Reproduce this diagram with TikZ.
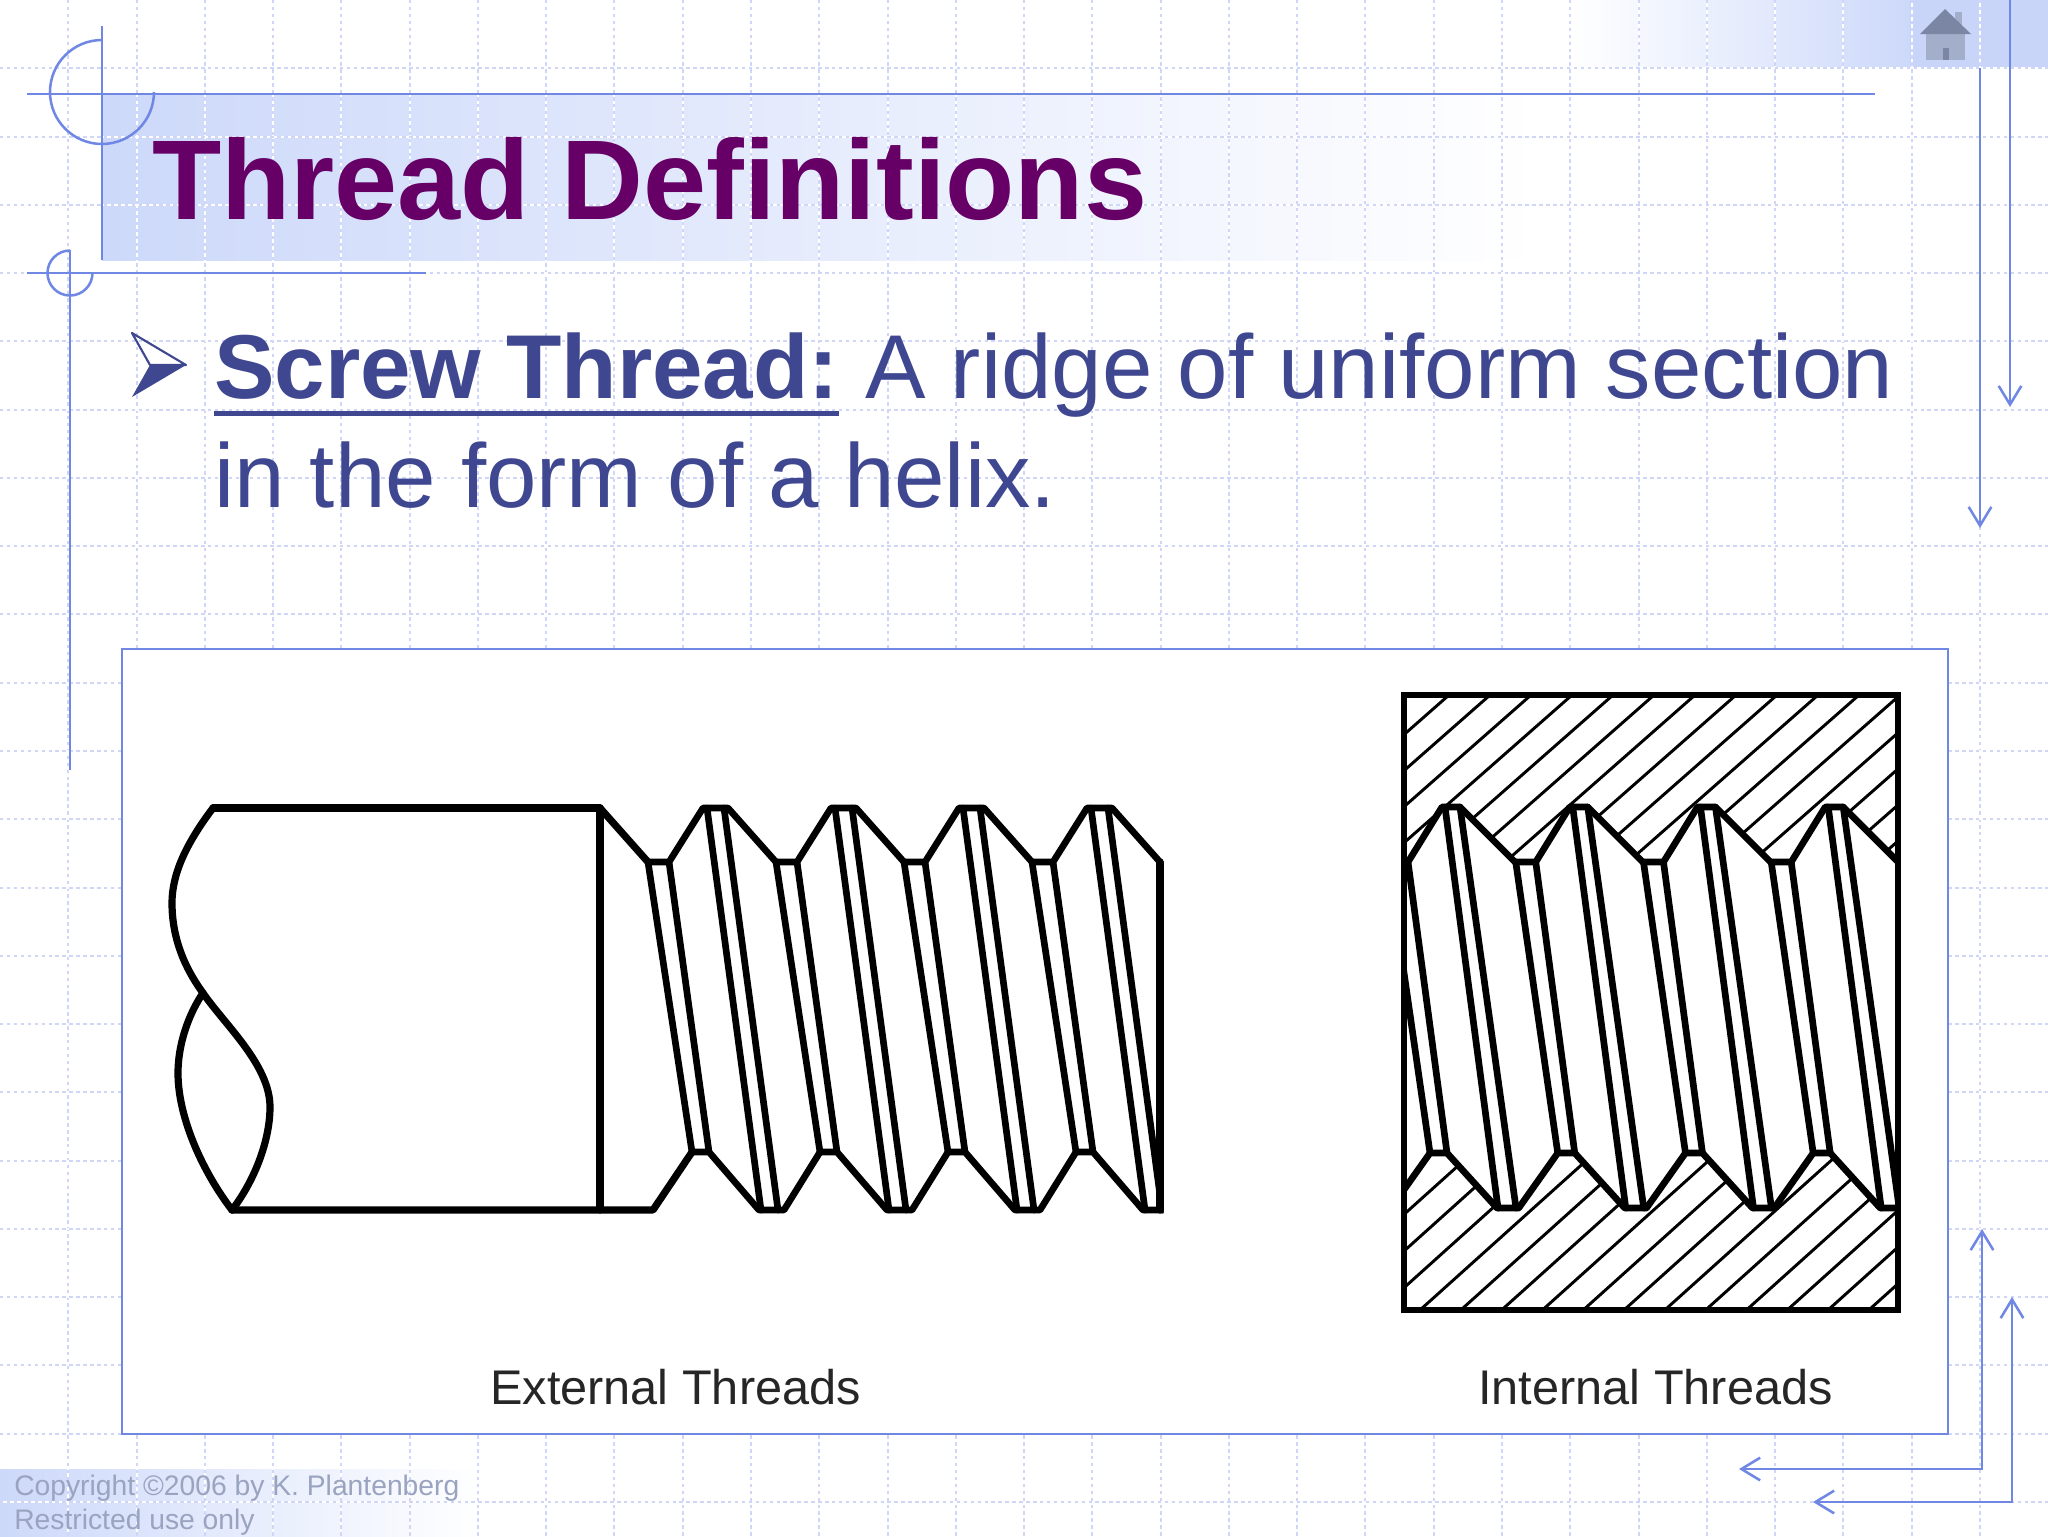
\documentclass[tikz,border=0pt]{standalone}
\usepackage{fontspec}
\setmainfont{Liberation Sans}
\usetikzlibrary{arrows.meta,positioning}
\definecolor{primary}{RGB}{112, 136, 228}
\definecolor{bandblue}{RGB}{205, 217, 250}
\definecolor{gridblue}{RGB}{207, 214, 247}
\definecolor{titlecol}{RGB}{102, 0, 102}
\definecolor{bodycol}{RGB}{63, 71, 145}
\definecolor{copycol}{RGB}{154, 163, 191}
\definecolor{homelight}{RGB}{163, 174, 202}
\definecolor{homedark}{RGB}{122, 134, 163}

\begin{document}
\begin{tikzpicture}[
    x=0.75pt, y=-0.75pt,
    gridback/.style={white, line width=1.5pt},
    gridline/.style={gridblue, line width=1.5pt, dash pattern=on 2.6pt off 2.6pt},
    rule/.style={primary, line width=1.9pt},
    barb/.style={rule, >={Straight Barb[length=14pt, width=17pt]}},
    outline/.style={black, line width=5.4pt, line join=round, line cap=round},
    ridge/.style={black, line width=5pt, line join=round, line cap=round},
    hatch/.style={black, line width=2.2pt},
    body/.style={anchor=base west, inner sep=0pt, text=bodycol, font=\fontsize{68}{68}\selectfont},
    caption/.style={anchor=base west, inner sep=0pt, text=black!85, font=\fontsize{36.5}{36.5}\selectfont},
    copyline/.style={anchor=base west, inner sep=0pt, text=copycol, font=\fontsize{21.2}{21.2}\selectfont}
]
    \useasboundingbox (0,0) rectangle (2048,1536);
    \fill[white] (0,0) rectangle (2048,1536);

    % bands
    \shade[left color=bandblue, right color=white] (102,94) rectangle (1540,260);
    \shade[left color=white, right color=bandblue] (1570,0) rectangle (1910,68);
    \fill[bandblue!95!primary] (1910,0) rectangle (2048,68);
    \shade[left color=bandblue, right color=white] (0,1469) rectangle (480,1536);

    % grid
    \foreach \k in {1,...,29} {
        \draw[gridback] ({\k*68.27},0) -- ({\k*68.27},1536);
        \draw[gridline] ({\k*68.27},0) -- ({\k*68.27},1536);
    }
    \foreach \k in {1,...,22} {
        \draw[gridback] (0,{\k*68.27}) -- (2048,{\k*68.27});
        \draw[gridline] (0,{\k*68.27}) -- (2048,{\k*68.27});
    }

    % title rules
    \draw[rule] (27,94) -- (1875,94);
    \draw[rule] (102,26) -- (102,260);
    \draw[rule] (102,40) arc[start angle=-90, end angle=-360, radius=52];
    \draw[rule] (27,273) -- (426,273);
    \draw[rule] (70,250) -- (70,770);
    \draw[rule] (70,250.5) arc[start angle=-90, end angle=-360, radius=22.5];

    % side arrows
    \coordinate (topa) at (2010,0);
    \coordinate (enda) at (2010,407);
    \coordinate (topb) at (1980,68);
    \coordinate (endb) at (1980,528);
    \coordinate (upa) at (1982,1229);
    \coordinate (lefta) at (1739,1469);
    \coordinate (upb) at (2012,1297);
    \coordinate (leftb) at (1813,1502);
    \draw[barb, ->] (topa) -- (enda);
    \draw[barb, ->] (topb) -- (endb);
    \draw[barb, <->] (upa) |- (lefta);
    \draw[barb, <->] (upb) |- (leftb);

    % home icon
    \fill[homelight] (1955,12) rectangle (1962,30);
    \fill[homelight] (1926,34) rectangle (1965,60);
    \fill[homedark] (1945,9) -- (1971,34) -- (1920,34) -- cycle;
    \fill[homedark] (1943,48) rectangle (1949,60);

    % title and text
    \node[anchor=base west, inner sep=0pt, text=titlecol, font=\fontsize{85}{85}\selectfont\bfseries] (title) at (152,219) {Thread Definitions};
    \draw[bodycol, line width=1.6pt, line join=round] (132,333) -- (186,365) -- (150,365) -- cycle;
    \fill[bodycol] (132,397) -- (186,365) -- (150,365) -- cycle;
    \node[body, font=\fontsize{68}{68}\selectfont\bfseries] (screw) at (214,398) {Screw Thread:};
    \node[body] (rest) at (865,398) {A ridge of uniform section};
    \node[body] (helix) at (214,507) {in the form of a helix.};
    \draw[bodycol, line width=3.8pt] ([yshift=-11.5pt]screw.base west) -- ([yshift=-11.5pt]screw.base east);

    % picture frame
    \draw[rule, fill=white] (122,649) rectangle (1948,1434);

    % external thread
    \draw[outline] (213,808) -- (600,808);
    \draw[outline] (232,1210) -- (653,1210) -- (692,1152);
    \draw[outline] (600,808) -- (648,862);
    \draw[outline] (600,808) -- (600,1210);
    \draw[outline] (213,808) .. controls (185,845) and (172,875) .. (172,903)
        .. controls (172,945) and (190,975) .. (203,993)
        .. controls (225,1025) and (270,1065) .. (270,1107)
        .. controls (270,1140) and (255,1180) .. (232,1210);
    \draw[outline] (203,993) .. controls (188,1015) and (178,1045) .. (178,1073)
        .. controls (178,1120) and (205,1175) .. (232,1210);
    \begin{scope}
        \clip (600,790) rectangle (1163.5,1225);
        \foreach \i in {0,...,3} {
            \begin{scope}[xshift=\i*96pt]
                \draw[ridge] (648,862) -- (669,862) -- (703,808) -- (728,808) -- (776,862);
                \draw[ridge] (692,1152) -- (709,1152) -- (759,1210) -- (784,1210) -- (820,1152);
                \draw[ridge] (648,862) -- (692,1152);
                \draw[ridge] (669,862) -- (709,1152);
                \draw[ridge] (707,808) -- (761,1210);
                \draw[ridge] (724,808) -- (778,1210);
            \end{scope}
        }
    \end{scope}
    \draw[outline] (1160,862) -- (1160,1210);

    % internal thread
    \begin{scope}
        \clip (1404,695) rectangle (1898,1310);
        \foreach \k in {-1,...,16} {
            \draw[hatch] ({1449+41*\k},695) -- ({1250+41*\k},870);
        }
        \foreach \k in {-5,...,12} {
            \draw[hatch] ({1420+40.8*\k},1310) -- ({1598+40.8*\k},1150);
        }
        \foreach \i in {0,...,3} {
            \begin{scope}[xshift=\i*95.8pt]
                \fill[white] (1388,862) -- (1408,862) -- (1442,807) -- (1460,807) -- (1518,862) -- (1520,1208) -- (1497,1208) -- (1447,1153) -- (1430,1153) -- (1391,1208) -- cycle;
            \end{scope}
        }
        \foreach \i in {0,...,3} {
            \begin{scope}[xshift=\i*95.8pt]
                \draw[ridge] (1388,862) -- (1408,862) -- (1442,807) -- (1460,807) -- (1515,862);
                \draw[ridge] (1391,1208) -- (1430,1153) -- (1447,1153) -- (1497,1208) -- (1518,1208);
                \draw[ridge] (1388,862) -- (1430,1153);
                \draw[ridge] (1408,862) -- (1447,1153);
                \draw[ridge] (1445,807) -- (1498,1208);
                \draw[ridge] (1460,807) -- (1516,1208);
            \end{scope}
        }
    \end{scope}
    \draw[outline, line width=5.2pt, line join=miter] (1404,695) rectangle (1898,1310);

    % captions
    \node[caption] (external) at (490,1404) {External Threads};
    \node[caption] (internal) at (1478,1404) {Internal Threads};
    \node[copyline] (copyone) at (14,1495) {Copyright ©2006 by K. Plantenberg};
    \node[copyline] (copytwo) at (14,1529) {Restricted use only};
\end{tikzpicture}
\end{document}
